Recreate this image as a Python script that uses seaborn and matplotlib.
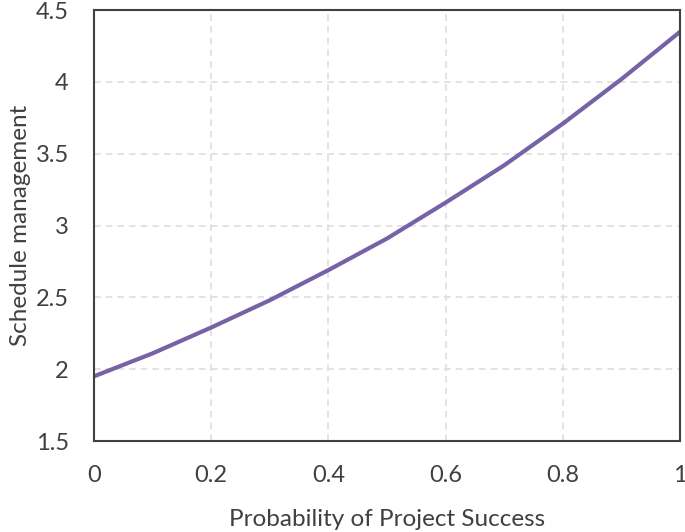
import pandas as pd
import matplotlib.pyplot as plt
import seaborn as sns

# values
prob_success = [0.0, 0.1, 0.2, 0.3, 0.4, 0.5, 0.6, 0.7, 0.8, 0.9, 1.0]
schedule_mgmt = [1.95, 2.11, 2.29, 2.48, 2.69, 2.91, 3.16, 3.42, 3.71, 4.02, 4.35]
x_ticks = [0, 0.2, 0.4, 0.6, 0.8, 1]
x_tick_labels = ['0', '0.2', '0.4', '0.6', '0.8', '1']
y_ticks = [1.5, 2, 2.5, 3, 3.5, 4, 4.5]
y_tick_labels = ['1.5', '2', '2.5', '3', '3.5', '4', '4.5']

df = pd.DataFrame({'Probability of Project Success': prob_success,
                   'Schedule management': schedule_mgmt})

sns.set_style('white')
plt.rcParams['font.family'] = ['Lato', 'DejaVu Sans']

fig = plt.figure(figsize=(6.85, 5.32), dpi=100)
ax = fig.add_axes([0.137, 0.171, 0.856, 0.810])

sns.lineplot(data=df, x='Probability of Project Success', y='Schedule management',
             ax=ax, color='#7662a6', linewidth=3)

ax.set_xlim(0, 1)
ax.set_ylim(1.5, 4.5)
ax.set_xticks(x_ticks)
ax.set_xticklabels(x_tick_labels)
ax.set_yticks(y_ticks)
ax.set_yticklabels(y_tick_labels)
ax.grid(True, color='#dedede', linestyle=(0, (4, 3)), linewidth=1.2)
ax.tick_params(axis='x', length=0, pad=17, labelsize=17, colors='#404040')
ax.tick_params(axis='y', length=0, pad=18, labelsize=17, colors='#404040')

for s in ['left', 'bottom', 'top', 'right']:
    ax.spines[s].set_color('#404040')
    ax.spines[s].set_linewidth(1.5)

ax.set_xlabel('Probability of Project Success', fontsize=17.5, color='#404040', labelpad=17)
ax.set_ylabel('Schedule management', fontsize=17.5, color='#404040', labelpad=3)

fig.savefig('out.png', dpi=100)
